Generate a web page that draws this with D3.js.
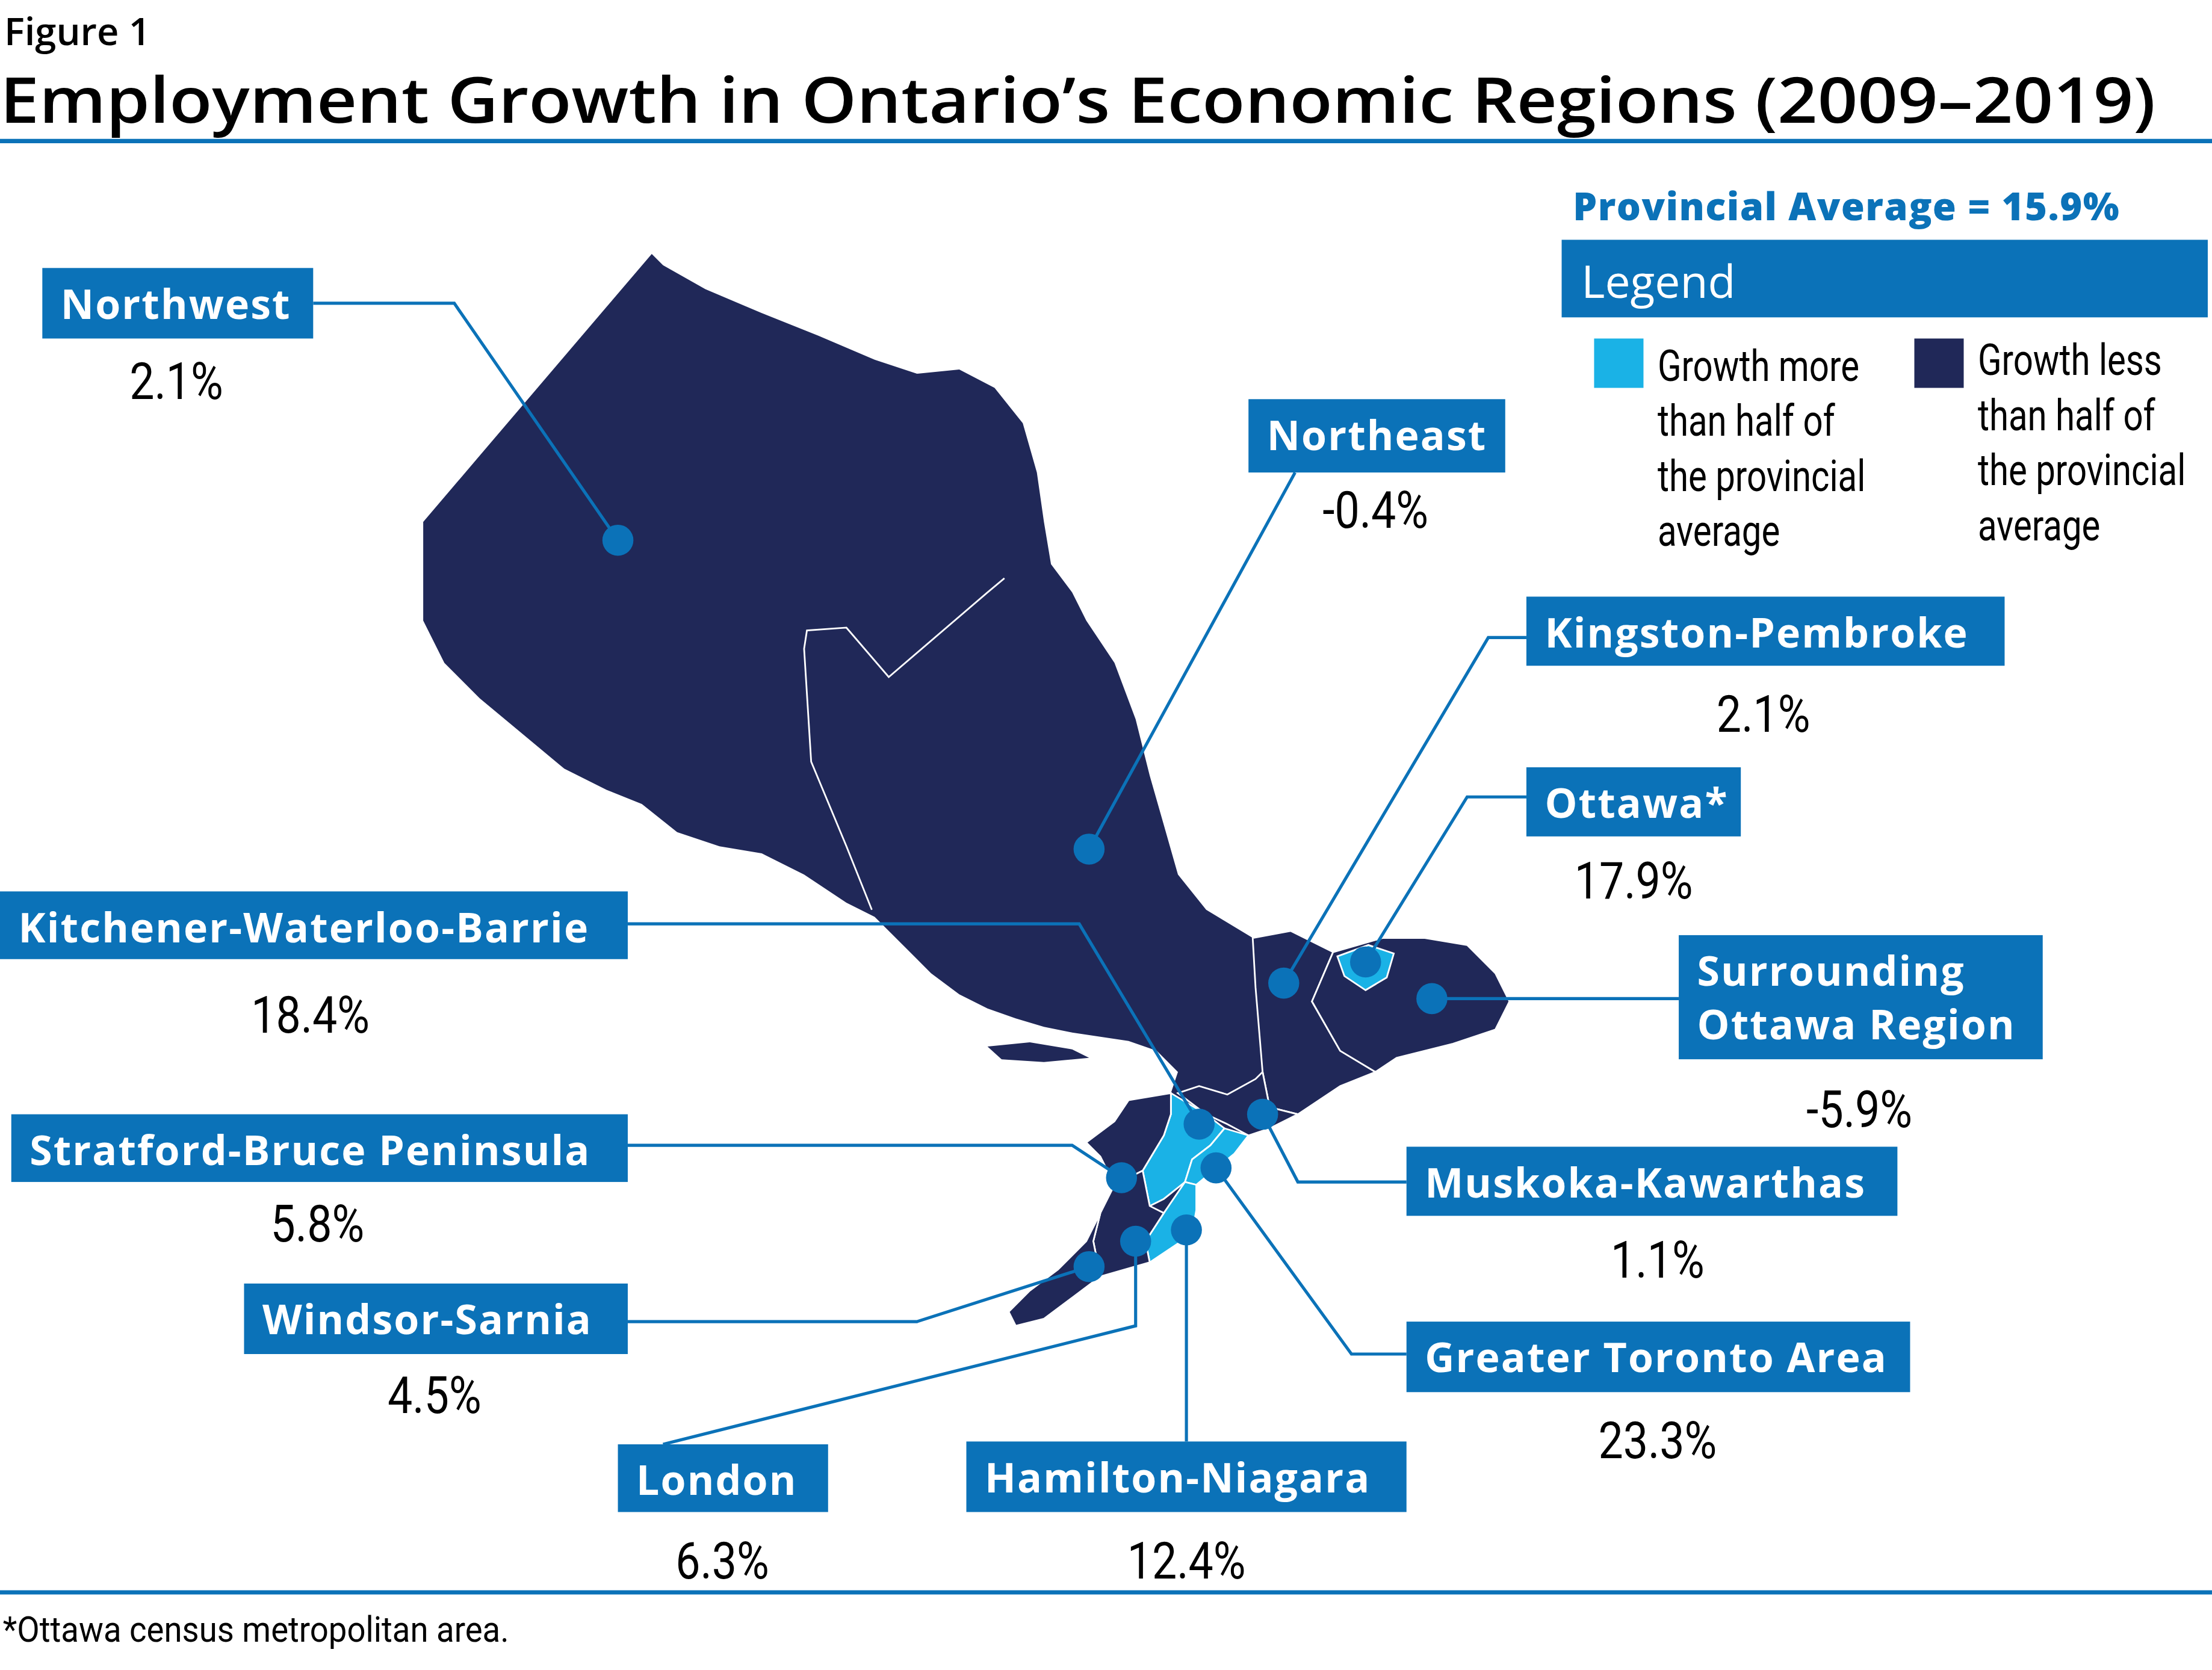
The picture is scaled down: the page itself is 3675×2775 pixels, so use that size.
<!DOCTYPE html>
<html><head><meta charset="utf-8">
<script src="https://cdn.jsdelivr.net/npm/d3@7"></script>
<style>body{margin:0;background:#fff}</style>
</head><body>
<svg id="chart"></svg>
<script>
// region data
const regions = ["Northwest","Northeast","Kingston-Pembroke","Ottawa*","Surrounding Ottawa Region","Muskoka-Kawarthas",
  "Greater Toronto Area","Hamilton-Niagara","London","Windsor-Sarnia","Stratford-Bruce Peninsula","Kitchener-Waterloo-Barrie"];
const growth = [2.1,-0.4,2.1,17.9,-5.9,1.1,23.3,12.4,6.3,4.5,5.8,18.4];
const provincialAverage = 15.9;

// map geometry in base units (1568 x 1184 frame)
const outline = [[462,180],[470,188],[500,205],[540,222],[580,238],[620,255],[650,265],[680,262],[705,275],[725,300],[735,335],[740,370],[745,400],[760,420],[770,440],[790,470],[805,510],[815,550],[825,585],[835,620],[855,645],[888,665],[915,660],[945,675],[980,665],[1010,665],[1040,670],[1060,690],[1070,710],[1060,730],[1030,740],[990,750],[975,760],[950,770],[920,790],[900,800],[885,805],[875,818],[860,830],[848,840],[848,858],[845,875],[830,885],[815,895],[780,905],[760,920],[740,935],[720,940],[715,930],[730,915],[750,900],[770,880],[780,860],[790,840],[780,820],[770,810],[790,795],[800,780],[830,775],[835,760],[820,745],[800,738],[780,735],[760,732],[740,728],[720,722],[700,715],[680,705],[660,690],[640,670],[620,650],[600,640],[570,620],[540,605],[510,600],[480,590],[455,570],[430,560],[400,545],[370,520],[340,495],[315,470],[300,440],[300,370]];
const manitoulin = [[700,742],[730,739],[760,744],[772,750],[740,753],[710,751]];
const nwBoundary = [[712,410],[700,420],[630,480],[600,445],[572,447],[570,460],[575,540],[600,600],[618,645]];
const southShapes = {
  "Kingston-Pembroke": [[888,665],[915,660],[945,675],[930,710],[950,745],[975,760],[950,770],[920,790],[900,785],[895,760],[890,700]],
  "Surrounding Ottawa Region": [[945,675],[980,665],[1010,665],[1040,670],[1060,690],[1070,710],[1060,730],[1030,740],[990,750],[975,760],[950,745],[930,710]],
  "Ottawa*": [[948,678],[953,692],[968,702],[983,693],[988,676],[970,670]],
  "Muskoka-Kawarthas": [[835,775],[850,770],[870,776],[890,765],[895,760],[900,785],[920,790],[900,800],[885,805],[870,797],[855,790]],
  "Kitchener-Waterloo-Barrie": [[830,775],[855,790],[868,800],[858,812],[845,822],[840,838],[825,850],[815,855],[810,830],[825,805],[830,790]],
  "Greater Toronto Area": [[868,800],[885,805],[875,818],[860,830],[848,840],[840,838],[845,822],[858,812]],
  "Hamilton-Niagara": [[840,838],[848,840],[848,858],[845,875],[830,885],[815,895],[812,880],[825,860]],
  "Stratford-Bruce Peninsula": [[790,795],[800,780],[830,775],[830,790],[825,805],[810,830],[790,840],[780,820],[770,810]],
  "London": [[790,840],[810,830],[815,855],[825,860],[812,880],[815,895],[780,905],[775,880],[780,860]],
  "Windsor-Sarnia": [[780,860],[775,880],[780,905],[760,920],[740,935],[720,940],[715,930],[730,915],[750,900],[770,880]]
};
// label box [x0,y0,x1,y1], value text position, leader polyline ending at dot
const boxes = [[30,190,222,240],[885,283,1067,335],[1082,423,1421,472],[1082,544,1234,593],[1190,663,1448,751],[997,813,1345,862],
  [997,937,1354,987],[685,1022,997,1072],[438,1024,587,1072],[173,910,445,960],[8,790,445,838],[0,632,445,680]];
const valuePos = [[125,283],[975,374],[1250,519],[1158,637],[1318,799],[1175,906],[1175,1034],[841,1119],[512,1119],[308,1002],[225,880],[220,732]];
const leaders = [
  [[222,215],[322,215],[438,383]],
  [[918,335],[772,602]],
  [[1082,452],[1055,452],[910,697]],
  [[1082,565],[1040,565],[968,682]],
  [[1190,708],[1015,708]],
  [[997,838],[920,838],[895,790]],
  [[997,960],[958,960],[862,828]],
  [[841,1022],[841,872]],
  [[470,1024],[805,940],[805,880]],
  [[445,937],[650,937],[772,898]],
  [[445,812],[760,812],[795,835]],
  [[445,655],[765,655],[850,797]]
];
const legendItems = [["Growth more","than half of","the provincial","average"],["Growth less","than half of","the provincial","average"]];

const W = 3675, H = 2775, baseW = 1568;
const k = W / baseW;
const x = d3.scaleLinear().domain([0, baseW]).range([0, W]);
const y = d3.scaleLinear().domain([0, H / k]).range([0, H]);
const dark = "#202858", light = "#1ab2e6", blue = "#0b72b8";
const color = v => v > provincialAverage / 2 ? light : dark;

const svg = d3.select("#chart").attr("width", W).attr("height", H);
const g = svg.append("g");
const closed = d3.line().x(d => x(d[0])).y(d => y(d[1])).curve(d3.curveLinearClosed);
const open = d3.line().x(d => x(d[0])).y(d => y(d[1]));

// condensed text: Roboto squeezed horizontally
function narrow(px, py, str, size, anchor, sx) {
  return g.append("text").attr("transform", `translate(${x(px)},${y(py)}) scale(${sx || 0.8},1)`)
    .attr("text-anchor", anchor || "start").text(str)
    .attr("font-family", "Roboto").attr("font-size", size * k);
}

// titles
g.append("text").attr("x", x(3)).attr("y", y(32)).text("Figure 1")
  .attr("font-family", "Open Sans").attr("font-size", 27 * k).attr("font-weight", 600);
g.append("text").attr("x", x(0)).attr("y", y(87)).text("Employment Growth in Ontario\u2019s Economic Regions (2009\u20132019)")
  .attr("font-family", "Open Sans").attr("font-size", 45 * k).attr("font-weight", 600)
  .attr("textLength", x(1528)).attr("lengthAdjust", "spacingAndGlyphs");
g.append("line").attr("x1", 0).attr("x2", W).attr("y1", y(100)).attr("y2", y(100)).attr("stroke", blue).attr("stroke-width", 3 * k);
g.append("line").attr("x1", 0).attr("x2", W).attr("y1", y(1129)).attr("y2", y(1129)).attr("stroke", blue).attr("stroke-width", 3 * k);
narrow(2, 1164, "*Ottawa census metropolitan area.", 25, "start", 0.93);

// map
g.append("path").attr("d", closed(outline)).attr("fill", dark);
g.append("path").attr("d", closed(manitoulin)).attr("fill", dark);
g.append("path").attr("d", open(nwBoundary)).attr("fill", "none").attr("stroke", "#fff").attr("stroke-width", 1.2 * k);
Object.entries(southShapes).forEach(([name, pts]) => {
  const v = growth[regions.indexOf(name)];
  g.append("path").attr("d", closed(pts)).attr("fill", color(v)).attr("stroke", "#fff").attr("stroke-width", 1.2 * k);
});

// leaders and dots
leaders.forEach(pts => {
  g.append("path").attr("d", open(pts)).attr("fill", "none").attr("stroke", blue).attr("stroke-width", 2.2 * k);
  const end = pts[pts.length - 1];
  g.append("circle").attr("cx", x(end[0])).attr("cy", y(end[1])).attr("r", 11 * k).attr("fill", blue);
});

// label boxes
regions.forEach((name, i) => {
  const b = boxes[i];
  g.append("rect").attr("x", x(b[0])).attr("y", y(b[1])).attr("width", x(b[2] - b[0])).attr("height", y(b[3] - b[1])).attr("fill", blue);
  const lines = name === "Surrounding Ottawa Region" ? ["Surrounding", "Ottawa Region"] : [name];
  lines.forEach((t, j) => {
    g.append("text").attr("x", x(b[0] + 13)).attr("y", y(b[1] + 36 + j * 38)).text(t)
      .attr("fill", "#fff").attr("font-family", "Open Sans").attr("font-weight", 700)
      .attr("font-size", 29 * k).attr("letter-spacing", 0.9 * k);
  });
  narrow(valuePos[i][0], valuePos[i][1], growth[i].toFixed(1) + "%", 36, "middle", 0.87);
});

// legend
g.append("text").attr("x", x(1115)).attr("y", y(156)).text("Provincial Average = " + provincialAverage + "%")
  .attr("fill", blue).attr("font-family", "Open Sans").attr("font-weight", 800).attr("font-size", 27 * k)
  .attr("letter-spacing", 0.6 * k);
g.append("rect").attr("x", x(1107)).attr("y", y(170)).attr("width", x(458)).attr("height", y(55)).attr("fill", blue);
g.append("text").attr("x", x(1121)).attr("y", y(211)).text("Legend").attr("fill", "#fff")
  .attr("font-family", "Open Sans").attr("font-size", 32 * k);
legendItems.forEach((lines, i) => {
  const lx = 1130 + i * 227;
  g.append("rect").attr("x", x(lx)).attr("y", y(240)).attr("width", x(35)).attr("height", y(35)).attr("fill", i ? dark : light);
  lines.forEach((t, j) => narrow(lx + 45, 270 + j * 39 - i * 4, t, 31));
});
</script>
</body></html>
